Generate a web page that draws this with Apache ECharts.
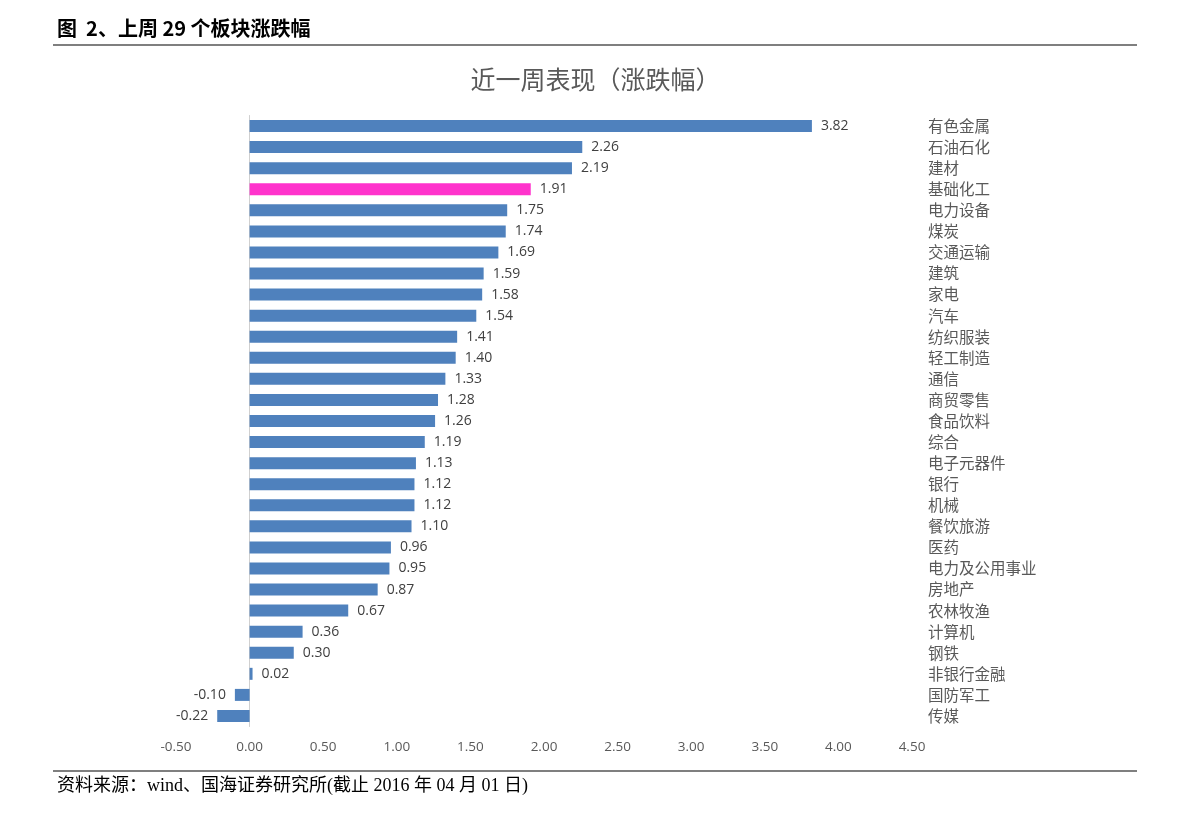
<!DOCTYPE html>
<html><head><meta charset="utf-8">
<script src="https://cdn.jsdelivr.net/npm/echarts@6/dist/echarts.min.js"></script>
<style>html,body{margin:0;padding:0;background:#fff}#c{width:1191px;height:818px}</style>
</head><body><div id="c"></div>
<script>
const categories = ['有色金属','石油石化','建材','基础化工','电力设备','煤炭','交通运输','建筑','家电','汽车','纺织服装','轻工制造','通信','商贸零售','食品饮料','综合','电子元器件','银行','机械','餐饮旅游','医药','电力及公用事业','房地产','农林牧渔','计算机','钢铁','非银行金融','国防军工','传媒'];
const values = [3.82,2.26,2.19,1.91,1.75,1.74,1.69,1.59,1.58,1.54,1.41,1.40,1.33,1.28,1.26,1.19,1.13,1.12,1.12,1.10,0.96,0.95,0.87,0.67,0.36,0.30,0.02,-0.10,-0.22];
const highlight = '基础化工';
const xMin = -0.5, xMax = 4.5, xStep = 0.5;

const chart = echarts.init(document.getElementById('c'));
const cjk = '"Noto Sans CJK SC", "Noto Sans", sans-serif';
const num = '"Open Sans", "Noto Sans", sans-serif';
chart.setOption({
  animation: false,
  title: {
    text: '近一周表现（涨跌幅）', left: 'center', top: 62,
    textStyle: {fontFamily: cjk, fontSize: 25, fontWeight: 'normal', color: '#595959'}
  },
  grid: {left: 176, right: 279, top: 115.5, bottom: 91.5},
  xAxis: {
    type: 'value', min: xMin, max: xMax, interval: xStep,
    axisLine: {show: false}, axisTick: {show: false}, splitLine: {show: false},
    axisLabel: {fontFamily: num, fontSize: 13.5, color: '#595959', margin: 14, formatter: v => v.toFixed(2)}
  },
  yAxis: [{
    type: 'category', data: categories, inverse: true,
    axisLine: {show: true, onZero: true, lineStyle: {color: '#d0d0d0', width: 1}},
    axisTick: {show: false}, axisLabel: {show: false}
  }, {
    type: 'category', data: categories, inverse: true, position: 'right',
    axisLine: {show: false}, axisTick: {show: false},
    axisLabel: {fontFamily: cjk, fontSize: 15.5, color: '#595959', margin: 16, align: 'left'}
  }],
  series: [{
    type: 'bar', barWidth: 12,
    data: values.map((v, i) => ({
      value: v,
      itemStyle: {color: categories[i] === highlight ? '#FF33CC' : '#4F81BD'},
      label: {position: v < 0 ? 'left' : 'right'}
    })),
    label: {show: true, fontFamily: num, fontSize: 14, color: '#404040', distance: 9, padding: [2, 0, 0, 0], formatter: p => p.value.toFixed(2)}
  }],
  graphic: [
    {type: 'text', left: 57, top: 18, style: {text: '图  2、上周 29 个板块涨跌幅', font: 'bold 20px "Noto Sans CJK SC", sans-serif', fill: '#000'}},
    {type: 'line', shape: {x1: 53, y1: 45, x2: 1137, y2: 45}, style: {stroke: '#7f7f7f', lineWidth: 2}},
    {type: 'line', shape: {x1: 53, y1: 771, x2: 1137, y2: 771}, style: {stroke: '#7f7f7f', lineWidth: 2}},
    {type: 'text', left: 57, top: 777, style: {text: '资料来源：wind、国海证券研究所(截止 2016 年 04 月 01 日)', font: '18px "Liberation Serif", "Noto Sans CJK SC", serif', fill: '#000'}}
  ]
});
</script></body></html>
